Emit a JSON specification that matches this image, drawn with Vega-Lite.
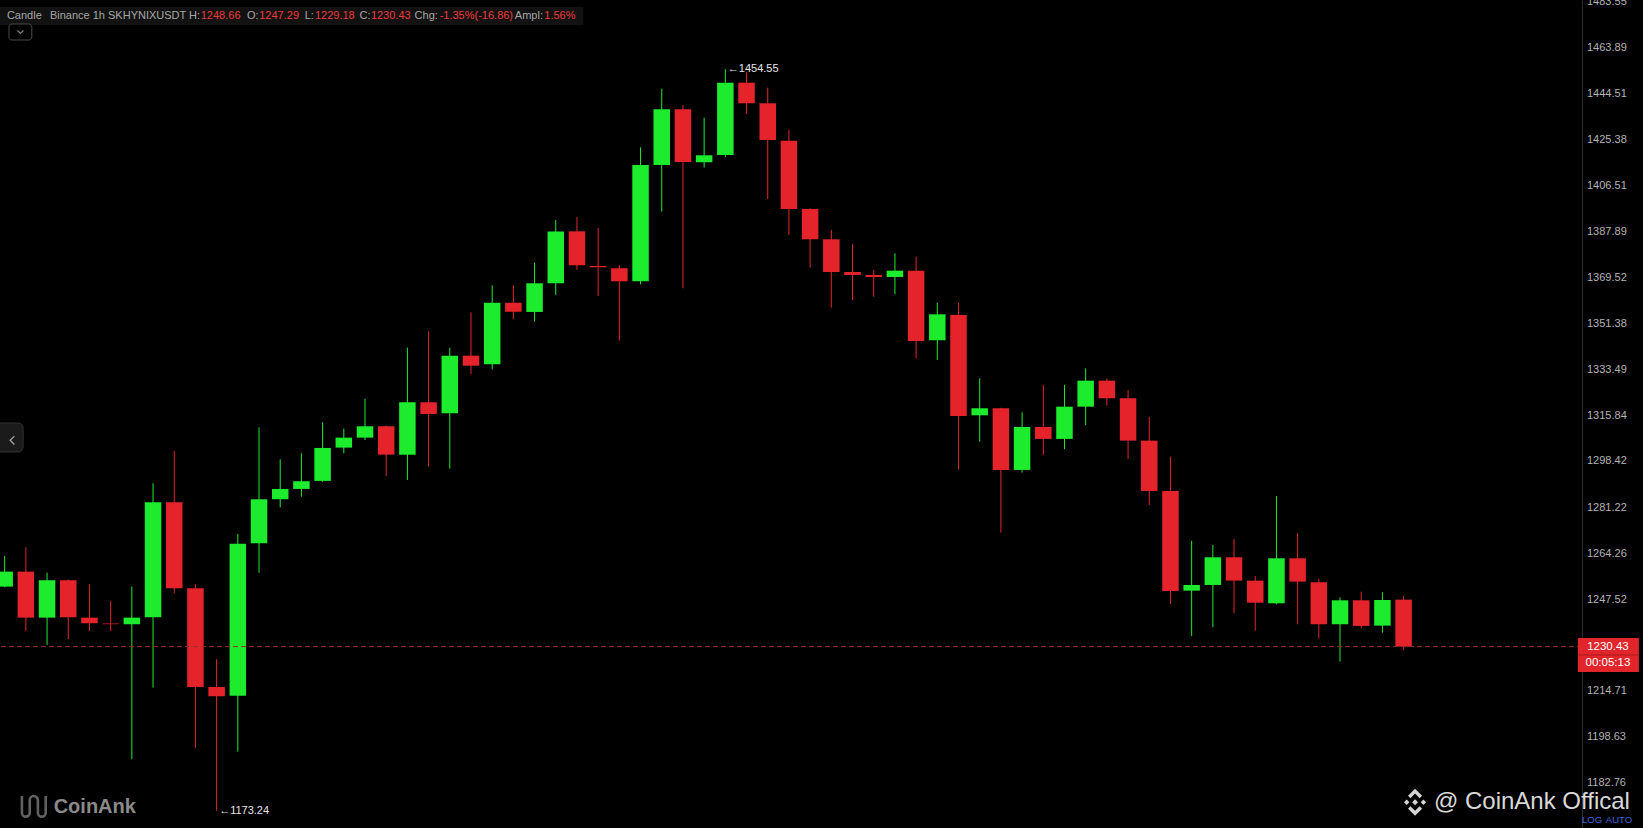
{
  "$schema": "https://vega.github.io/schema/vega-lite/v6.json",
  "width": 1582,
  "height": 828,
  "autosize": {"type": "none"},
  "padding": {"left": 0, "top": 0, "right": 61, "bottom": 0},
  "background": "#000000",
  "config": {"view": {"stroke": null}, "font": "Liberation Sans"},
  "resolve": {"axis": {"y": "independent"}},
  "datasets": {
    "candles": [
      {"i": 0, "o": 1252.0, "h": 1263.2, "l": 1251.8, "c": 1257.46},
      {"i": 1, "o": 1257.46, "h": 1266.36, "l": 1236.02, "c": 1240.8},
      {"i": 2, "o": 1240.8, "h": 1257.09, "l": 1231.0, "c": 1254.33},
      {"i": 3, "o": 1254.33, "h": 1254.6, "l": 1233.15, "c": 1240.94},
      {"i": 4, "o": 1240.8, "h": 1252.87, "l": 1236.02, "c": 1238.79},
      {"i": 5, "o": 1238.7, "h": 1246.8, "l": 1236.02, "c": 1238.45},
      {"i": 6, "o": 1238.43, "h": 1252.0, "l": 1190.94, "c": 1240.8},
      {"i": 7, "o": 1240.94, "h": 1290.08, "l": 1215.88, "c": 1282.98},
      {"i": 8, "o": 1282.98, "h": 1302.21, "l": 1249.59, "c": 1251.41},
      {"i": 9, "o": 1251.41, "h": 1252.87, "l": 1194.94, "c": 1216.13},
      {"i": 10, "o": 1216.13, "h": 1225.94, "l": 1173.24, "c": 1212.86},
      {"i": 11, "o": 1213.07, "h": 1271.27, "l": 1193.56, "c": 1267.69},
      {"i": 12, "o": 1267.84, "h": 1311.11, "l": 1257.09, "c": 1284.1},
      {"i": 13, "o": 1284.1, "h": 1299.06, "l": 1281.11, "c": 1287.95},
      {"i": 14, "o": 1287.95, "h": 1301.34, "l": 1285.07, "c": 1290.83},
      {"i": 15, "o": 1290.94, "h": 1313.08, "l": 1290.6, "c": 1303.34},
      {"i": 16, "o": 1303.46, "h": 1310.65, "l": 1301.34, "c": 1307.24},
      {"i": 17, "o": 1307.24, "h": 1322.09, "l": 1306.37, "c": 1311.56},
      {"i": 18, "o": 1311.56, "h": 1311.8, "l": 1292.81, "c": 1300.81},
      {"i": 19, "o": 1300.81, "h": 1341.77, "l": 1291.32, "c": 1320.71},
      {"i": 20, "o": 1320.71, "h": 1348.15, "l": 1296.29, "c": 1316.22},
      {"i": 21, "o": 1316.49, "h": 1341.77, "l": 1295.54, "c": 1338.66},
      {"i": 22, "o": 1338.66, "h": 1355.6, "l": 1331.57, "c": 1334.77},
      {"i": 23, "o": 1335.32, "h": 1366.25, "l": 1333.37, "c": 1359.39},
      {"i": 24, "o": 1359.39, "h": 1366.25, "l": 1352.96, "c": 1355.84},
      {"i": 25, "o": 1355.72, "h": 1375.23, "l": 1351.9, "c": 1367.04},
      {"i": 26, "o": 1367.04, "h": 1392.34, "l": 1362.42, "c": 1387.65},
      {"i": 27, "o": 1387.77, "h": 1393.44, "l": 1372.32, "c": 1374.19},
      {"i": 28, "o": 1373.91, "h": 1389.1, "l": 1362.03, "c": 1373.39},
      {"i": 29, "o": 1373.0, "h": 1374.19, "l": 1344.5, "c": 1367.82},
      {"i": 30, "o": 1367.82, "h": 1421.98, "l": 1366.64, "c": 1414.71},
      {"i": 31, "o": 1414.71, "h": 1446.32, "l": 1395.7, "c": 1437.73},
      {"i": 32, "o": 1437.73, "h": 1439.52, "l": 1365.06, "c": 1415.95},
      {"i": 33, "o": 1415.83, "h": 1434.24, "l": 1413.61, "c": 1418.69},
      {"i": 34, "o": 1418.81, "h": 1454.55, "l": 1417.87, "c": 1448.85},
      {"i": 35, "o": 1448.85, "h": 1453.23, "l": 1435.78, "c": 1440.23},
      {"i": 36, "o": 1440.23, "h": 1446.74, "l": 1400.84, "c": 1424.97},
      {"i": 37, "o": 1424.68, "h": 1429.12, "l": 1386.29, "c": 1396.79},
      {"i": 38, "o": 1396.79, "h": 1397.0, "l": 1373.24, "c": 1384.58},
      {"i": 39, "o": 1384.58, "h": 1388.29, "l": 1357.42, "c": 1371.52},
      {"i": 40, "o": 1371.52, "h": 1382.58, "l": 1360.45, "c": 1370.32},
      {"i": 41, "o": 1370.32, "h": 1372.32, "l": 1361.75, "c": 1369.52},
      {"i": 42, "o": 1369.52, "h": 1378.99, "l": 1362.7, "c": 1372.04},
      {"i": 43, "o": 1372.04, "h": 1377.63, "l": 1337.65, "c": 1344.38},
      {"i": 44, "o": 1344.65, "h": 1359.39, "l": 1336.99, "c": 1354.81},
      {"i": 45, "o": 1354.54, "h": 1359.39, "l": 1295.32, "c": 1315.46},
      {"i": 46, "o": 1315.73, "h": 1329.92, "l": 1305.73, "c": 1318.41},
      {"i": 47, "o": 1318.41, "h": 1318.6, "l": 1271.74, "c": 1295.05},
      {"i": 48, "o": 1295.05, "h": 1316.88, "l": 1294.05, "c": 1311.3},
      {"i": 49, "o": 1311.3, "h": 1327.35, "l": 1300.69, "c": 1306.75},
      {"i": 50, "o": 1306.75, "h": 1327.35, "l": 1302.85, "c": 1319.02},
      {"i": 51, "o": 1319.02, "h": 1333.76, "l": 1311.94, "c": 1329.0},
      {"i": 52, "o": 1329.0, "h": 1329.92, "l": 1319.41, "c": 1322.25},
      {"i": 53, "o": 1322.25, "h": 1325.43, "l": 1299.18, "c": 1306.11},
      {"i": 54, "o": 1306.11, "h": 1315.08, "l": 1281.97, "c": 1287.2},
      {"i": 55, "o": 1287.2, "h": 1300.05, "l": 1245.72, "c": 1250.43},
      {"i": 56, "o": 1250.54, "h": 1268.79, "l": 1234.23, "c": 1252.61},
      {"i": 57, "o": 1252.61, "h": 1267.21, "l": 1237.35, "c": 1262.7},
      {"i": 58, "o": 1262.7, "h": 1269.42, "l": 1242.38, "c": 1254.18},
      {"i": 59, "o": 1254.18, "h": 1255.89, "l": 1236.13, "c": 1246.19},
      {"i": 60, "o": 1245.97, "h": 1285.33, "l": 1245.62, "c": 1262.33},
      {"i": 61, "o": 1262.33, "h": 1271.52, "l": 1238.43, "c": 1253.82},
      {"i": 62, "o": 1253.6, "h": 1254.8, "l": 1233.4, "c": 1238.43},
      {"i": 63, "o": 1238.43, "h": 1248.14, "l": 1225.09, "c": 1247.05},
      {"i": 64, "o": 1247.05, "h": 1250.18, "l": 1237.0, "c": 1237.82},
      {"i": 65, "o": 1237.93, "h": 1249.96, "l": 1235.41, "c": 1247.16},
      {"i": 66, "o": 1247.29, "h": 1248.66, "l": 1229.18, "c": 1230.43}
    ],
    "extremes": [
      {"i": 34, "p": 1454.55, "t": "←1454.55"},
      {"i": 10, "p": 1173.24, "t": "←1173.24"}
    ]
  },
  "layer": [
    {
      "data": {"name": "candles"},
      "mark": {"type": "rule", "strokeWidth": 1},
      "encoding": {
        "x": {"field": "i", "type": "quantitative", "scale": {"domain": [0.0155, 74.18], "nice": false, "zero": false}, "axis": null},
        "y": {"field": "h", "type": "quantitative", "scale": {"type": "log", "domain": [1167.43, 1483.98], "nice": false, "zero": false},
          "axis": {"orient": "right", "title": null, "values": [1483.55, 1463.89, 1444.51, 1425.38, 1406.51, 1387.89, 1369.52, 1351.38, 1333.49, 1315.84, 1298.42, 1281.22, 1264.26, 1247.52, 1214.71, 1198.63, 1182.76],
            "labelExpr": "format(datum.value, '.2f')", "labelAlign": "left", "labelBaseline": "middle", "labelPadding": 4.5, "ticks": false, "grid": false, "domain": true, "domainColor": "#2E2E2E", "domainWidth": 1,
            "labelColor": "#B4B4B4", "labelFont": "Liberation Sans", "labelFontSize": 11, "labelOverlap": false, "labelFlush": false, "labelBound": false, "tickCount": 40}},
        "y2": {"field": "l"},
        "color": {"condition": {"test": "datum.c >= datum.o", "value": "#1DEB2E"}, "value": "#E4242A"}
      }
    },
    {
      "data": {"name": "candles"},
      "mark": {"type": "bar", "width": 16.5, "clip": true},
      "encoding": {
        "x": {"field": "i", "type": "quantitative", "scale": {"domain": [0.0155, 74.18], "nice": false, "zero": false}, "axis": null},
        "y": {"field": "o", "type": "quantitative", "scale": {"type": "log", "domain": [1167.43, 1483.98], "nice": false, "zero": false}, "axis": null},
        "y2": {"field": "c"},
        "color": {"condition": {"test": "datum.c >= datum.o", "value": "#1DEB2E"}, "value": "#E4242A"}
      }
    },
    {
      "data": {"name": "extremes"},
      "mark": {"type": "text", "align": "left", "baseline": "middle", "dx": 2.5, "fontSize": 11, "color": "#E6E6E6", "font": "Liberation Sans"},
      "encoding": {
        "x": {"field": "i", "type": "quantitative", "scale": {"domain": [0.0155, 74.18], "nice": false, "zero": false}, "axis": null},
        "y": {"field": "p", "type": "quantitative", "scale": {"type": "log", "domain": [1167.43, 1483.98], "nice": false, "zero": false}, "axis": null},
        "text": {"field": "t"}
      }
    },
    {
      "data": {"values": [{}]},
      "layer": [
        {
          "mark": {"type": "rule", "color": "#9B2C2C", "strokeDash": [5, 3], "strokeWidth": 1},
          "encoding": {
            "y": {"datum": 1230.43, "type": "quantitative", "scale": {"type": "log", "domain": [1167.43, 1483.98], "nice": false, "zero": false}, "axis": null}
          }
        },
        {
          "mark": {"type": "rect", "color": "#E0262B"},
          "encoding": {
            "x": {"datum": 74.22, "type": "quantitative", "scale": {"domain": [0.0155, 74.18], "nice": false, "zero": false}, "axis": null},
            "x2": {"datum": 77.1},
            "y": {"datum": 1233.51, "type": "quantitative", "scale": {"type": "log", "domain": [1167.43, 1483.98], "nice": false, "zero": false}, "axis": null},
            "y2": {"datum": 1221.44}
          }
        },
        {
          "mark": {"type": "rule", "color": "#A81A1E", "strokeWidth": 1},
          "encoding": {
            "x": {"datum": 74.22, "type": "quantitative", "scale": {"domain": [0.0155, 74.18], "nice": false, "zero": false}, "axis": null},
            "x2": {"datum": 77.1},
            "y": {"datum": 1227.46, "type": "quantitative", "scale": {"type": "log", "domain": [1167.43, 1483.98], "nice": false, "zero": false}, "axis": null}
          }
        },
        {
          "mark": {"type": "text", "align": "center", "baseline": "middle", "fontSize": 11.5, "color": "#FFFFFF", "font": "Liberation Sans"},
          "encoding": {
            "x": {"datum": 75.64, "type": "quantitative", "scale": {"domain": [0.0155, 74.18], "nice": false, "zero": false}, "axis": null},
            "y": {"datum": 1230.43, "type": "quantitative", "scale": {"type": "log", "domain": [1167.43, 1483.98], "nice": false, "zero": false}, "axis": null},
            "text": {"value": "1230.43"}
          }
        },
        {
          "mark": {"type": "text", "align": "center", "baseline": "middle", "fontSize": 11.5, "color": "#FFFFFF", "font": "Liberation Sans"},
          "encoding": {
            "x": {"datum": 75.64, "type": "quantitative", "scale": {"domain": [0.0155, 74.18], "nice": false, "zero": false}, "axis": null},
            "y": {"datum": 1224.45, "type": "quantitative", "scale": {"type": "log", "domain": [1167.43, 1483.98], "nice": false, "zero": false}, "axis": null},
            "text": {"value": "00:05:13"}
          }
        },
        {
          "mark": {"type": "rect", "color": "#121212"},
          "encoding": {
            "x": {"datum": -0.5, "type": "quantitative", "scale": {"domain": [0.0155, 74.18], "nice": false, "zero": false}, "axis": null},
            "x2": {"datum": 27.3},
            "y": {"datum": 1480.97, "type": "quantitative", "scale": {"type": "log", "domain": [1167.43, 1483.98], "nice": false, "zero": false}, "axis": null},
            "y2": {"datum": 1473.27}
          }
        },
        {
          "mark": {"type": "text", "align": "left", "baseline": "middle", "fontSize": 11, "color": "#A6A6A6", "font": "Liberation Sans"},
          "encoding": {
            "x": {"datum": 0.105, "type": "quantitative", "scale": {"domain": [0.0155, 74.18], "nice": false, "zero": false}, "axis": null},
            "y": {"datum": 1477.26, "type": "quantitative", "scale": {"type": "log", "domain": [1167.43, 1483.98], "nice": false, "zero": false}, "axis": null},
            "text": {"value": "Candle"}
          }
        },
        {
          "mark": {"type": "text", "align": "left", "baseline": "middle", "fontSize": 11, "color": "#A6A6A6", "font": "Liberation Sans"},
          "encoding": {
            "x": {"datum": 2.135, "type": "quantitative", "scale": {"domain": [0.0155, 74.18], "nice": false, "zero": false}, "axis": null},
            "y": {"datum": 1477.26, "type": "quantitative", "scale": {"type": "log", "domain": [1167.43, 1483.98], "nice": false, "zero": false}, "axis": null},
            "text": {"value": "Binance 1h SKHYNIXUSDT H:"}
          }
        },
        {
          "mark": {"type": "text", "align": "left", "baseline": "middle", "fontSize": 11, "color": "#EF3A3A", "font": "Liberation Sans"},
          "encoding": {
            "x": {"datum": 9.25, "type": "quantitative", "scale": {"domain": [0.0155, 74.18], "nice": false, "zero": false}, "axis": null},
            "y": {"datum": 1477.26, "type": "quantitative", "scale": {"type": "log", "domain": [1167.43, 1483.98], "nice": false, "zero": false}, "axis": null},
            "text": {"value": "1248.66"}
          }
        },
        {
          "mark": {"type": "text", "align": "left", "baseline": "middle", "fontSize": 11, "color": "#A6A6A6", "font": "Liberation Sans"},
          "encoding": {
            "x": {"datum": 11.427, "type": "quantitative", "scale": {"domain": [0.0155, 74.18], "nice": false, "zero": false}, "axis": null},
            "y": {"datum": 1477.26, "type": "quantitative", "scale": {"type": "log", "domain": [1167.43, 1483.98], "nice": false, "zero": false}, "axis": null},
            "text": {"value": "O:"}
          }
        },
        {
          "mark": {"type": "text", "align": "left", "baseline": "middle", "fontSize": 11, "color": "#EF3A3A", "font": "Liberation Sans"},
          "encoding": {
            "x": {"datum": 12.01, "type": "quantitative", "scale": {"domain": [0.0155, 74.18], "nice": false, "zero": false}, "axis": null},
            "y": {"datum": 1477.26, "type": "quantitative", "scale": {"type": "log", "domain": [1167.43, 1483.98], "nice": false, "zero": false}, "axis": null},
            "text": {"value": "1247.29"}
          }
        },
        {
          "mark": {"type": "text", "align": "left", "baseline": "middle", "fontSize": 11, "color": "#A6A6A6", "font": "Liberation Sans"},
          "encoding": {
            "x": {"datum": 14.155, "type": "quantitative", "scale": {"domain": [0.0155, 74.18], "nice": false, "zero": false}, "axis": null},
            "y": {"datum": 1477.26, "type": "quantitative", "scale": {"type": "log", "domain": [1167.43, 1483.98], "nice": false, "zero": false}, "axis": null},
            "text": {"value": "L:"}
          }
        },
        {
          "mark": {"type": "text", "align": "left", "baseline": "middle", "fontSize": 11, "color": "#EF3A3A", "font": "Liberation Sans"},
          "encoding": {
            "x": {"datum": 14.638, "type": "quantitative", "scale": {"domain": [0.0155, 74.18], "nice": false, "zero": false}, "axis": null},
            "y": {"datum": 1477.26, "type": "quantitative", "scale": {"type": "log", "domain": [1167.43, 1483.98], "nice": false, "zero": false}, "axis": null},
            "text": {"value": "1229.18"}
          }
        },
        {
          "mark": {"type": "text", "align": "left", "baseline": "middle", "fontSize": 11, "color": "#A6A6A6", "font": "Liberation Sans"},
          "encoding": {
            "x": {"datum": 16.738, "type": "quantitative", "scale": {"domain": [0.0155, 74.18], "nice": false, "zero": false}, "axis": null},
            "y": {"datum": 1477.26, "type": "quantitative", "scale": {"type": "log", "domain": [1167.43, 1483.98], "nice": false, "zero": false}, "axis": null},
            "text": {"value": "C:"}
          }
        },
        {
          "mark": {"type": "text", "align": "left", "baseline": "middle", "fontSize": 11, "color": "#EF3A3A", "font": "Liberation Sans"},
          "encoding": {
            "x": {"datum": 17.277, "type": "quantitative", "scale": {"domain": [0.0155, 74.18], "nice": false, "zero": false}, "axis": null},
            "y": {"datum": 1477.26, "type": "quantitative", "scale": {"type": "log", "domain": [1167.43, 1483.98], "nice": false, "zero": false}, "axis": null},
            "text": {"value": "1230.43"}
          }
        },
        {
          "mark": {"type": "text", "align": "left", "baseline": "middle", "fontSize": 11, "color": "#A6A6A6", "font": "Liberation Sans"},
          "encoding": {
            "x": {"datum": 19.34, "type": "quantitative", "scale": {"domain": [0.0155, 74.18], "nice": false, "zero": false}, "axis": null},
            "y": {"datum": 1477.26, "type": "quantitative", "scale": {"type": "log", "domain": [1167.43, 1483.98], "nice": false, "zero": false}, "axis": null},
            "text": {"value": "Chg:"}
          }
        },
        {
          "mark": {"type": "text", "align": "left", "baseline": "middle", "fontSize": 11, "color": "#EF3A3A", "font": "Liberation Sans"},
          "encoding": {
            "x": {"datum": 20.522, "type": "quantitative", "scale": {"domain": [0.0155, 74.18], "nice": false, "zero": false}, "axis": null},
            "y": {"datum": 1477.26, "type": "quantitative", "scale": {"type": "log", "domain": [1167.43, 1483.98], "nice": false, "zero": false}, "axis": null},
            "text": {"value": "-1.35%(-16.86)"}
          }
        },
        {
          "mark": {"type": "text", "align": "left", "baseline": "middle", "fontSize": 11, "color": "#A6A6A6", "font": "Liberation Sans"},
          "encoding": {
            "x": {"datum": 24.07, "type": "quantitative", "scale": {"domain": [0.0155, 74.18], "nice": false, "zero": false}, "axis": null},
            "y": {"datum": 1477.26, "type": "quantitative", "scale": {"type": "log", "domain": [1167.43, 1483.98], "nice": false, "zero": false}, "axis": null},
            "text": {"value": "Ampl:"}
          }
        },
        {
          "mark": {"type": "text", "align": "left", "baseline": "middle", "fontSize": 11, "color": "#EF3A3A", "font": "Liberation Sans"},
          "encoding": {
            "x": {"datum": 25.46, "type": "quantitative", "scale": {"domain": [0.0155, 74.18], "nice": false, "zero": false}, "axis": null},
            "y": {"datum": 1477.26, "type": "quantitative", "scale": {"type": "log", "domain": [1167.43, 1483.98], "nice": false, "zero": false}, "axis": null},
            "text": {"value": "1.56%"}
          }
        },
        {
          "mark": {"type": "rect", "fill": "#000000", "stroke": "#4A4A4A", "strokeWidth": 1, "cornerRadius": 3},
          "encoding": {
            "x": {"datum": 0.203, "type": "quantitative", "scale": {"domain": [0.0155, 74.18], "nice": false, "zero": false}, "axis": null},
            "x2": {"datum": 1.281},
            "y": {"datum": 1473.7, "type": "quantitative", "scale": {"type": "log", "domain": [1167.43, 1483.98], "nice": false, "zero": false}, "axis": null},
            "y2": {"datum": 1466.88}
          }
        },
        {
          "mark": {"type": "point", "shape": "M-0.6,-0.3L0,0.3L0.6,-0.3", "size": 100, "filled": false, "stroke": "#BBBBBB", "strokeWidth": 1.2},
          "encoding": {
            "x": {"datum": 0.742, "type": "quantitative", "scale": {"domain": [0.0155, 74.18], "nice": false, "zero": false}, "axis": null},
            "y": {"datum": 1470.28, "type": "quantitative", "scale": {"type": "log", "domain": [1167.43, 1483.98], "nice": false, "zero": false}, "axis": null}
          }
        },
        {
          "mark": {"type": "rect", "fill": "#1B1B1B", "stroke": "#333333", "strokeWidth": 1, "cornerRadius": 5},
          "encoding": {
            "x": {"datum": -0.5, "type": "quantitative", "scale": {"domain": [0.0155, 74.18], "nice": false, "zero": false}, "axis": null},
            "x2": {"datum": 0.87},
            "y": {"datum": 1312.79, "type": "quantitative", "scale": {"type": "log", "domain": [1167.43, 1483.98], "nice": false, "zero": false}, "axis": null},
            "y2": {"datum": 1301.81}
          }
        },
        {
          "mark": {"type": "point", "shape": "M0.3,-0.6L-0.3,0L0.3,0.6", "size": 196, "filled": false, "stroke": "#DDDDDD", "strokeWidth": 1.3},
          "encoding": {
            "x": {"datum": 0.358, "type": "quantitative", "scale": {"domain": [0.0155, 74.18], "nice": false, "zero": false}, "axis": null},
            "y": {"datum": 1306.23, "type": "quantitative", "scale": {"type": "log", "domain": [1167.43, 1483.98], "nice": false, "zero": false}, "axis": null}
          }
        },
        {
          "mark": {"type": "point", "shape": "M-0.85,-0.75L-0.85,0.45A0.28,0.28 0 0 0 -0.29,0.45L-0.29,-0.45A0.29,0.29 0 0 1 0.29,-0.45L0.29,0.45A0.28,0.28 0 0 0 0.85,0.45L0.85,-0.75", "size": 784, "filled": false, "stroke": "#8A8A8A", "strokeWidth": 2.6},
          "encoding": {
            "x": {"datum": 1.375, "type": "quantitative", "scale": {"domain": [0.0155, 74.18], "nice": false, "zero": false}, "axis": null},
            "y": {"datum": 1174.76, "type": "quantitative", "scale": {"type": "log", "domain": [1167.43, 1483.98], "nice": false, "zero": false}, "axis": null}
          }
        },
        {
          "mark": {"type": "text", "align": "left", "baseline": "middle", "fontSize": 20, "fontWeight": "bold", "color": "#8A8A8A", "font": "Liberation Sans"},
          "encoding": {
            "x": {"datum": 2.312, "type": "quantitative", "scale": {"domain": [0.0155, 74.18], "nice": false, "zero": false}, "axis": null},
            "y": {"datum": 1174.59, "type": "quantitative", "scale": {"type": "log", "domain": [1167.43, 1483.98], "nice": false, "zero": false}, "axis": null},
            "text": {"value": "CoinAnk"}
          }
        },
        {
          "mark": {"type": "point", "shape": "M0,-0.22L0.22,0L0,0.22L-0.22,0Z M-0.62,-0.2L-0.42,0L-0.62,0.2L-0.82,0Z M0.62,-0.2L0.82,0L0.62,0.2L0.42,0Z M0,-1L0.52,-0.48L0.34,-0.3L0,-0.64L-0.34,-0.3L-0.52,-0.48Z M0,1L0.52,0.48L0.34,0.3L0,0.64L-0.34,0.3L-0.52,0.48Z", "size": 729, "filled": true, "fill": "#D4D4D4", "opacity": 1},
          "encoding": {
            "x": {"datum": 66.54, "type": "quantitative", "scale": {"domain": [0.0155, 74.18], "nice": false, "zero": false}, "axis": null},
            "y": {"datum": 1176.19, "type": "quantitative", "scale": {"type": "log", "domain": [1167.43, 1483.98], "nice": false, "zero": false}, "axis": null}
          }
        },
        {
          "mark": {"type": "text", "align": "left", "baseline": "middle", "fontSize": 24, "color": "#D9D9D9", "font": "Liberation Sans"},
          "encoding": {
            "x": {"datum": 67.43, "type": "quantitative", "scale": {"domain": [0.0155, 74.18], "nice": false, "zero": false}, "axis": null},
            "y": {"datum": 1176.3, "type": "quantitative", "scale": {"type": "log", "domain": [1167.43, 1483.98], "nice": false, "zero": false}, "axis": null},
            "text": {"value": "@ CoinAnk Offical"}
          }
        },
        {
          "mark": {"type": "text", "align": "left", "baseline": "middle", "fontSize": 9.5, "color": "#4466DD", "font": "Liberation Sans"},
          "encoding": {
            "x": {"datum": 74.42, "type": "quantitative", "scale": {"domain": [0.0155, 74.18], "nice": false, "zero": false}, "axis": null},
            "y": {"datum": 1170.16, "type": "quantitative", "scale": {"type": "log", "domain": [1167.43, 1483.98], "nice": false, "zero": false}, "axis": null},
            "text": {"value": "LOG"}
          }
        },
        {
          "mark": {"type": "text", "align": "left", "baseline": "middle", "fontSize": 9.5, "color": "#4466DD", "font": "Liberation Sans"},
          "encoding": {
            "x": {"datum": 75.54, "type": "quantitative", "scale": {"domain": [0.0155, 74.18], "nice": false, "zero": false}, "axis": null},
            "y": {"datum": 1170.16, "type": "quantitative", "scale": {"type": "log", "domain": [1167.43, 1483.98], "nice": false, "zero": false}, "axis": null},
            "text": {"value": "AUTO"}
          }
        }
      ]
    }
  ]
}
